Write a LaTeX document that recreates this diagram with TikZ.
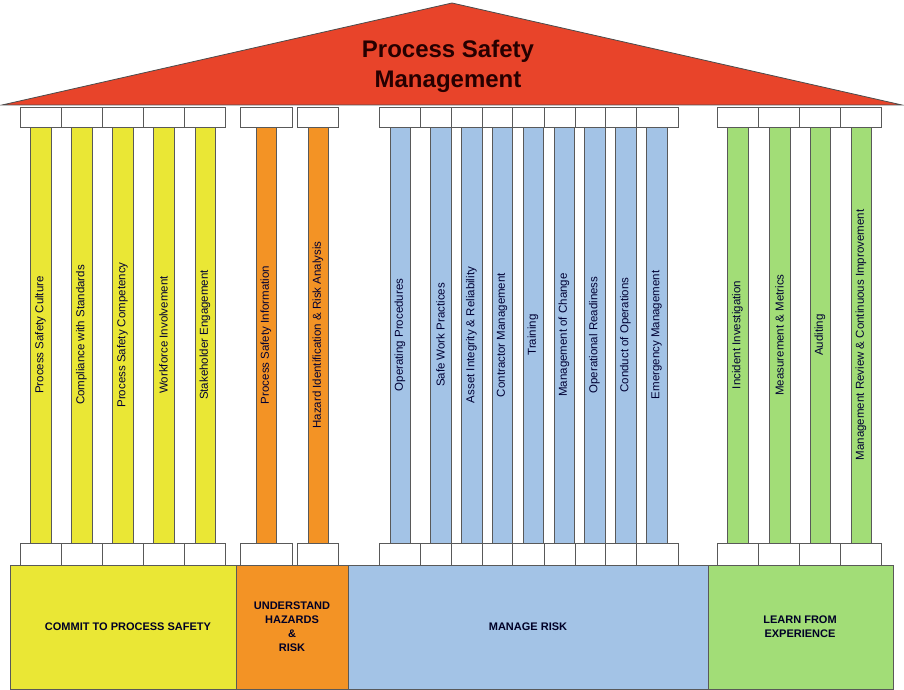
\documentclass[tikz,border=0pt]{standalone}
\usepackage{fontspec}
\setmainfont{Liberation Sans}
\begin{document}
\begin{tikzpicture}[x=1pt,y=-1pt,
  edge/.style={draw=black!65,line width=0.8pt},
  capbox/.style={edge,fill=white},
  lbl/.style={rotate=90,font=\fontsize{11.5}{13}\selectfont,text=black!80!blue},
  blk/.style={edge,line width=1pt},
  blktxt/.style={font=\bfseries\fontsize{11}{14}\selectfont,text=black!85!blue,align=center}]
\definecolor{cyel}{HTML}{EAE735}
\definecolor{cora}{HTML}{F39325}
\definecolor{cblu}{HTML}{A3C3E6}
\definecolor{cgrn}{HTML}{A2DD77}
\definecolor{cred}{HTML}{E8442A}
\useasboundingbox (0,0) rectangle (904,690);
% roof
\filldraw[fill=cred,draw=black!70,line width=0.8pt] (2,105) -- (452,3) -- (902,105) -- cycle;
\node[font=\bfseries\fontsize{24}{30}\selectfont,align=center,text=black!85!red] (title) at (448,66) {Process Safety\\Management};
% bottom blocks
\draw[blk,fill=cyel] (10,565) rectangle (236,689);
\draw[blk,fill=cora] (236,565) rectangle (348,689);
\draw[blk,fill=cblu] (348,565) rectangle (708,689);
\draw[blk,fill=cgrn] (708,565) rectangle (893,689);
\node[blktxt] (b1) at (128,627) {COMMIT TO PROCESS SAFETY};
\node[blktxt] (b2) at (292,627) {UNDERSTAND\\HAZARDS\\\&\\RISK};
\node[blktxt] (b3) at (528,627) {MANAGE RISK};
\node[blktxt] (b4) at (800,627) {LEARN FROM\\EXPERIENCE};
\foreach \a/\b/\c/\d/\col/\t [count=\i] in {
 20/61/30/51/cyel/Process Safety Culture,
 61/102/71/92/cyel/Compliance with Standards,
 102/143/112/133/cyel/Process Safety Competency,
 143/184/153/174/cyel/Workforce Involvement,
 184/225/195/215/cyel/Stakeholder Engagement,
 240/292/256/276/cora/Process Safety Information,
 297/338/308/328/cora/Hazard Identification \& Risk Analysis,
 379/420/390/410/cblu/Operating Procedures,
 420/451/430/451/cblu/Safe Work Practices,
 451/482/461/482/cblu/Asset Integrity \& Reliability,
 482/512/492/512/cblu/Contractor Management,
 512/544/523/543/cblu/Training,
 544/575/554/574/cblu/Management of Change,
 575/605/584/605/cblu/Operational Readiness,
 605/636/615/636/cblu/Conduct of Operations,
 636/678/646/667/cblu/Emergency Management,
 717/758/727/748/cgrn/Incident Investigation,
 758/799/769/790/cgrn/Measurement \& Metrics,
 799/840/810/830/cgrn/Auditing,
 840/881/851/871/cgrn/Management Review \& Continuous Improvement}{
  \draw[edge,fill=\col] (\c,127) rectangle (\d,543);
  \draw[capbox] (\a,107) rectangle (\b,127);
  \draw[capbox] (\a,543) rectangle (\b,565);
  \node[lbl] (c\i) at ({(\c+\d)/2},335) {\t};
}
\end{tikzpicture}
\end{document}
